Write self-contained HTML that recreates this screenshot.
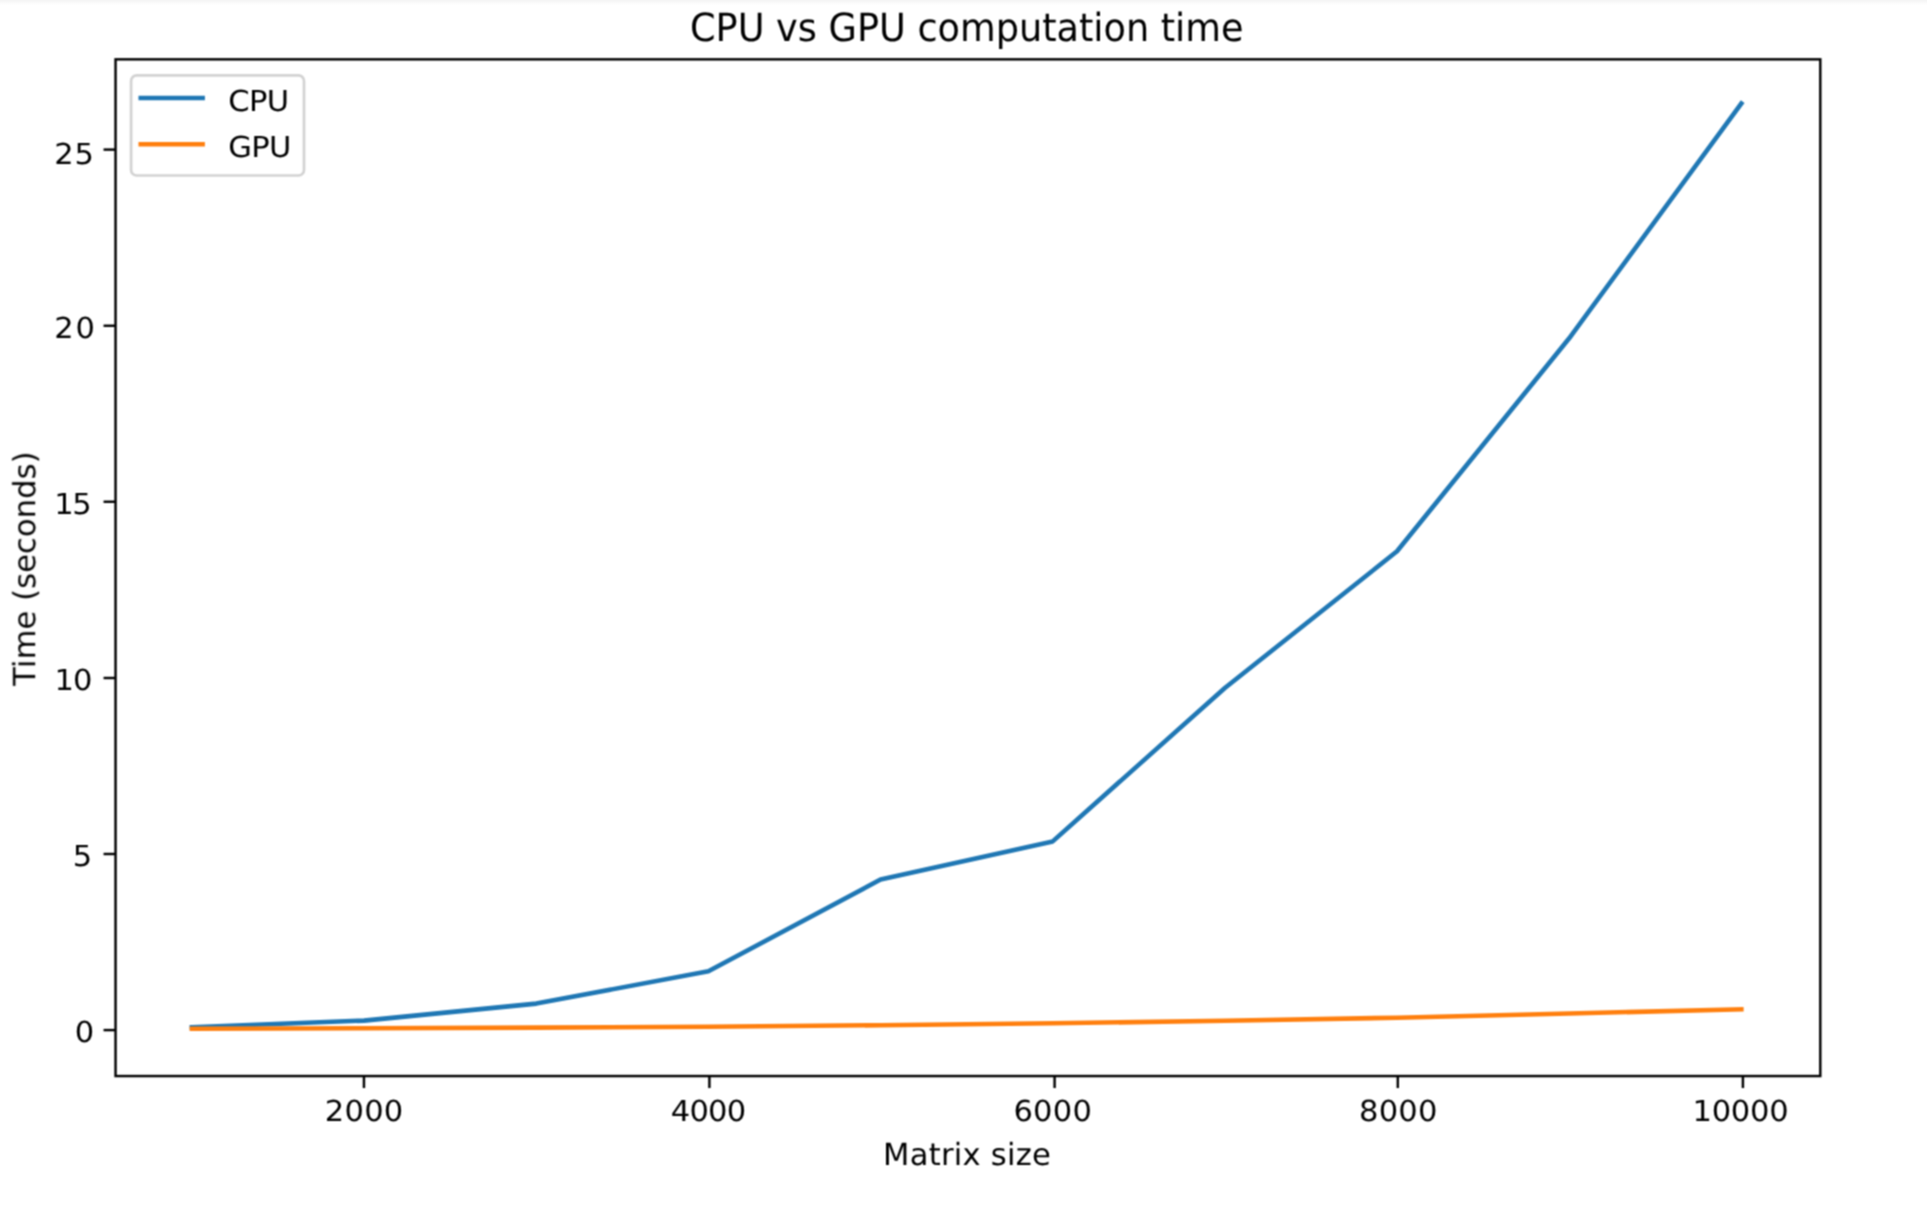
<!DOCTYPE html>
<html lang="en"><head><meta charset="utf-8"><title>CPU vs GPU computation time</title>
<style>
html,body{margin:0;padding:0;background:#fff;}
body{width:1927px;height:1206px;overflow:hidden;position:relative;}
#shade{position:absolute;left:0;top:0;width:1927px;height:6px;background:linear-gradient(to bottom,#f4f4f4 0,#f8f8f8 2px,#fdfdfd 4px,#fff 5.5px);}
svg{position:absolute;left:0;top:0;display:block;}
text{font-family:"DejaVu Sans","Liberation Sans",sans-serif;fill:#000;font-kerning:normal;text-rendering:geometricPrecision;}
.tk{font-size:30.55px;}
.ti{font-size:36.66px;}
</style></head><body>
<div id="shade"></div>
<svg id="chart" width="1927" height="1206" viewBox="0 0 1927 1206">
<defs><filter id="soft" x="0" y="0" width="1927" height="1206" filterUnits="userSpaceOnUse" color-interpolation-filters="sRGB"><feConvolveMatrix order="3" kernelMatrix="1 2 1 2 4 2 1 2 1" divisor="16" edgeMode="duplicate" preserveAlpha="false"/></filter></defs>
<g id="figure" filter="url(#soft)">
<g id="lines" fill="none" stroke-width="4.58" stroke-linejoin="round" stroke-linecap="square">
<polyline id="cpu" stroke="#1f77b4" points="191.90,1027.20 364.06,1020.60 536.22,1003.60 708.38,971.20 880.54,879.60 1052.70,841.40 1224.86,688.00 1397.02,551.30 1569.18,338.30 1741.34,103.50"/>
<polyline id="gpu" stroke="#ff7f0e" points="191.90,1028.80 364.06,1028.30 536.22,1027.60 708.38,1026.70 880.54,1025.20 1052.70,1023.30 1224.86,1020.80 1397.02,1017.70 1569.18,1013.50 1741.34,1009.30"/>
</g>
<rect id="axes" x="115.55" y="59.35" width="1704.75" height="1016.70" fill="none" stroke="#000" stroke-width="2.44" stroke-linejoin="miter"/>
<g id="ticks" stroke="#000" stroke-width="2.44" fill="none">
<line x1="363.95" y1="1076.05" x2="363.95" y2="1088.05"/>
<line x1="709.4" y1="1076.05" x2="709.4" y2="1088.05"/>
<line x1="1054.6" y1="1076.05" x2="1054.6" y2="1088.05"/>
<line x1="1397.8" y1="1076.05" x2="1397.8" y2="1088.05"/>
<line x1="1742.9" y1="1076.05" x2="1742.9" y2="1088.05"/>
<line x1="115.55" y1="1030.1" x2="103.55" y2="1030.1"/>
<line x1="115.55" y1="854.0" x2="103.55" y2="854.0"/>
<line x1="115.55" y1="678.0" x2="103.55" y2="678.0"/>
<line x1="115.55" y1="501.75" x2="103.55" y2="501.75"/>
<line x1="115.55" y1="325.75" x2="103.55" y2="325.75"/>
<line x1="115.55" y1="149.6" x2="103.55" y2="149.6"/>
</g>
<g id="xticklabels" class="tk">
<text id="x2000" class="tk" transform="translate(324.74,1121.00) scale(1,0.945)" style="letter-spacing:0.267px">2000</text>
<text id="x4000" class="tk" transform="translate(670.84,1121.00) scale(1,0.945)" style="letter-spacing:-0.833px">4000</text>
<text id="x6000" class="tk" transform="translate(1013.39,1121.00) scale(1,0.945)" style="letter-spacing:0.267px">6000</text>
<text id="x8000" class="tk" transform="translate(1359.09,1121.00) scale(1,0.945)" style="letter-spacing:0.167px">8000</text>
<text id="x10000" class="tk" transform="translate(1692.38,1121.00) scale(1,0.945)" style="letter-spacing:-0.188px">10000</text>
</g>
<g id="yticklabels" class="tk">
<text id="y0" class="tk" transform="translate(74.87,1042.00) scale(1,0.945)" style="letter-spacing:0.000px">0</text>
<text id="y5" class="tk" transform="translate(72.72,866.20) scale(1,0.945)" style="letter-spacing:0.000px">5</text>
<text id="y10" class="tk" transform="translate(54.44,690.00) scale(1,0.945)" style="letter-spacing:-0.800px">10</text>
<text id="y15" class="tk" transform="translate(54.34,513.80) scale(1,0.945)" style="letter-spacing:-1.400px">15</text>
<text id="y20" class="tk" transform="translate(54.34,337.60) scale(1,0.945)" style="letter-spacing:1.700px">20</text>
<text id="y25" class="tk" transform="translate(54.34,163.85) scale(1,0.945)" style="letter-spacing:0.800px">25</text>
</g>
<text id="title" class="ti" transform="translate(690.00,40.60) scale(1,1.06)" style="letter-spacing:-0.015px">CPU vs GPU computation time</text>
<text id="xlabel" class="tk" transform="translate(883.10,1165.40) scale(1,1.0)" style="letter-spacing:0.250px">Matrix size</text>
<text id="ylabel" class="tk" transform="translate(35.20,685.80) rotate(-90)" style="letter-spacing:0.092px">Time (seconds)</text>
<rect id="legend" x="131.1" y="75.3" width="172.90" height="100.20" rx="5.6" ry="5.6" fill="#fff" fill-opacity="0.8" stroke="#d2d2d2" stroke-width="2.7"/>
<g id="handles" fill="none" stroke-width="4.58" stroke-linecap="butt">
<line stroke="#1f77b4" x1="138.5" y1="98.0" x2="204.9" y2="98.0"/>
<line stroke="#ff7f0e" x1="138.5" y1="144.25" x2="204.9" y2="144.25"/>
</g>
<text id="lcpu" class="tk" transform="translate(228.30,111.00) scale(1,0.945)" style="letter-spacing:-0.600px">CPU</text>
<text id="lgpu" class="tk" transform="translate(228.30,157.20) scale(1,0.945)" style="letter-spacing:-0.720px">GPU</text>
</g>
</svg>
</body></html>
